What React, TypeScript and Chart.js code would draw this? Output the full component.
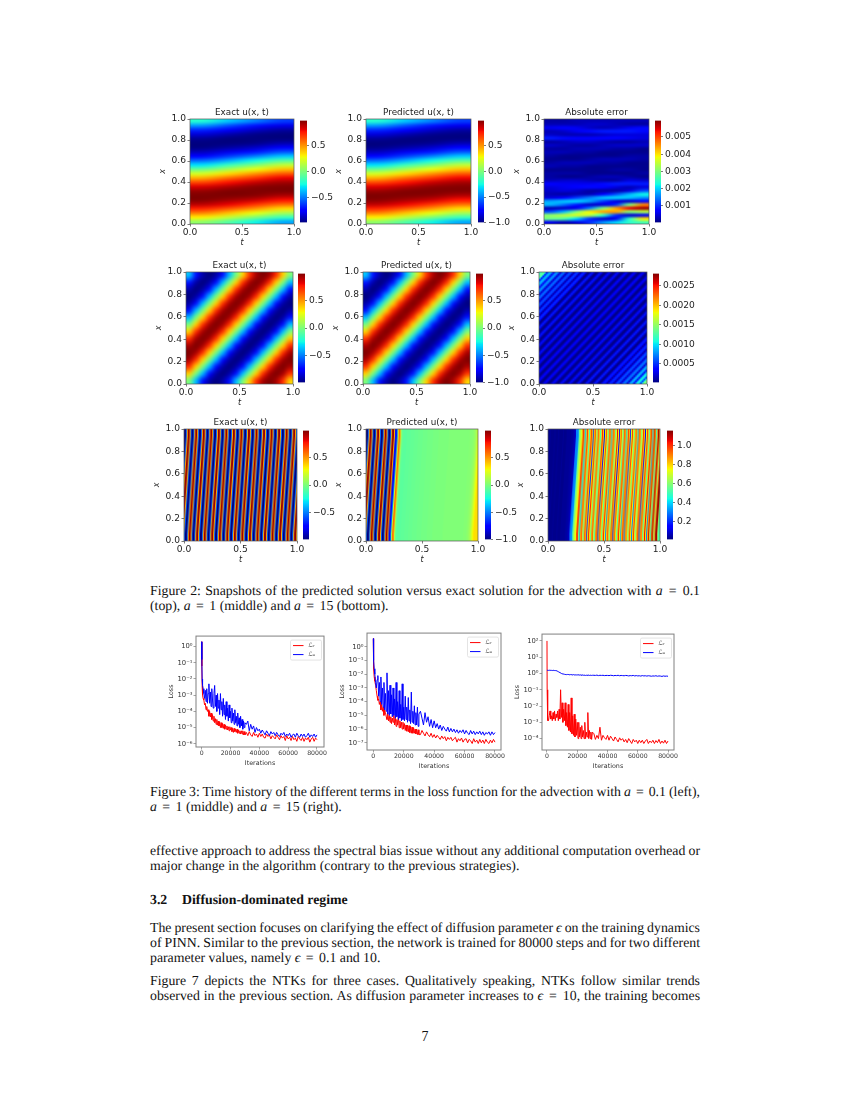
import React, { useEffect, useRef } from "react";
import { Chart, registerables } from "chart.js";

Chart.register(...registerables);

// ---------- heatmap data (rows run from x = 0 upward, columns from t = 0 rightward) ----------
const exactSlow = [
  [0.05, -0.1, -0.26, -0.41], [0.31, 0.16, 0, -0.16], [0.54, 0.41, 0.26, 0.1], [0.74, 0.63, 0.5, 0.36],
  [0.89, 0.81, 0.71, 0.59], [0.98, 0.93, 0.87, 0.78], [1, 0.99, 0.97, 0.91], [0.95, 0.99, 1, 0.99],
  [0.84, 0.91, 0.97, 0.99], [0.67, 0.78, 0.87, 0.93], [0.45, 0.59, 0.71, 0.81], [0.21, 0.36, 0.5, 0.63],
  [-0.05, 0.1, 0.26, 0.41], [-0.31, -0.16, 0, 0.16], [-0.54, -0.41, -0.26, -0.1], [-0.74, -0.63, -0.5, -0.36],
  [-0.89, -0.81, -0.71, -0.59], [-0.98, -0.93, -0.87, -0.78], [-1, -0.99, -0.97, -0.91], [-0.95, -0.99, -1, -0.99],
  [-0.84, -0.91, -0.97, -0.99], [-0.67, -0.78, -0.87, -0.93], [-0.45, -0.59, -0.71, -0.81], [-0.21, -0.36, -0.5, -0.63],
];
const errorSlow = [
  [0.6, 0.3, 0.5, 1.0, 1.6, 2.0, 2.4, 2.6], [2.9, 2.7, 2.0, 1.0, 0.4, 0.6, 2.4, 4.0],
  [3.1, 3.4, 3.6, 3.4, 2.4, 1.0, 0.4, 0.6], [1.2, 1.8, 3.0, 3.9, 4.4, 4.4, 3.0, 3.4],
  [0.3, 0.4, 0.6, 1.5, 3.0, 4.4, 5.4, 5.8], [1.8, 1.4, 0.9, 0.4, 0.5, 1.0, 3.0, 4.6],
  [1.7, 1.9, 2.0, 1.7, 1.1, 0.5, 0.4, 0.8], [0.5, 0.7, 1.1, 1.5, 1.9, 2.0, 1.9, 1.6],
  [0.3, 0.2, 0.3, 0.3, 0.7, 1.2, 1.8, 2.2], [0.4, 0.5, 0.4, 0.2, 0.2, 0.2, 0.5, 1.2],
  [0.5, 0.6, 0.7, 0.8, 0.7, 0.5, 0.3, 0.5], [0.7, 0.6, 0.6, 0.6, 0.8, 0.9, 0.9, 0.9],
  [0.3, 0.4, 0.4, 0.3, 0.2, 0.2, 0.5, 0.4], [0.2, 0.1, 0.1, 0.2, 0.3, 0.3, 0.2, 0.1],
  [0.2, 0.2, 0.2, 0.1, 0.1, 0.1, 0.1, 0.2], [0.1, 0.1, 0.1, 0.1, 0.1, 0.2, 0.2, 0.1],
  [0.3, 0.2, 0.2, 0.1, 0.1, 0.1, 0.1, 0.1], [0.2, 0.3, 0.3, 0.3, 0.2, 0.2, 0.1, 0.1],
  [0.1, 0.1, 0.1, 0.2, 0.3, 0.3, 0.3, 0.2], [0.2, 0.1, 0.1, 0.1, 0.1, 0.1, 0.2, 0.2],
  [0.3, 0.3, 0.2, 0.2, 0.1, 0.1, 0.1, 0.1], [0.2, 0.2, 0.3, 0.3, 0.3, 0.2, 0.2, 0.1],
  [0.4, 0.3, 0.2, 0.2, 0.3, 0.4, 0.4, 0.4], [0.2, 0.3, 0.4, 0.4, 0.3, 0.2, 0.2, 0.3],
  [0.9, 0.8, 0.7, 0.7, 0.7, 0.7, 0.6, 0.5], [0.4, 0.3, 0.3, 0.3, 0.4, 0.5, 0.5, 0.5],
  [0.3, 0.4, 0.6, 0.8, 0.9, 0.9, 0.9, 0.8], [0.6, 0.7, 0.6, 0.4, 0.3, 0.4, 0.6, 0.8],
  [0.3, 0.3, 0.3, 0.4, 0.4, 0.3, 0.2, 0.2], [0.2, 0.2, 0.3, 0.3, 0.3, 0.3, 0.3, 0.3],
];
const exactMid = [
  [0, -0.38, -0.71, -0.92, -1, -0.92, -0.71, -0.38, 0, 0.38, 0.71, 0.92, 1, 0.92, 0.71, 0.38],
  [0.38, 0, -0.38, -0.71, -0.92, -1, -0.92, -0.71, -0.38, 0, 0.38, 0.71, 0.92, 1, 0.92, 0.71],
  [0.71, 0.38, 0, -0.38, -0.71, -0.92, -1, -0.92, -0.71, -0.38, 0, 0.38, 0.71, 0.92, 1, 0.92],
  [0.92, 0.71, 0.38, 0, -0.38, -0.71, -0.92, -1, -0.92, -0.71, -0.38, 0, 0.38, 0.71, 0.92, 1],
  [1, 0.92, 0.71, 0.38, 0, -0.38, -0.71, -0.92, -1, -0.92, -0.71, -0.38, 0, 0.38, 0.71, 0.92],
  [0.92, 1, 0.92, 0.71, 0.38, 0, -0.38, -0.71, -0.92, -1, -0.92, -0.71, -0.38, 0, 0.38, 0.71],
  [0.71, 0.92, 1, 0.92, 0.71, 0.38, 0, -0.38, -0.71, -0.92, -1, -0.92, -0.71, -0.38, 0, 0.38],
  [0.38, 0.71, 0.92, 1, 0.92, 0.71, 0.38, 0, -0.38, -0.71, -0.92, -1, -0.92, -0.71, -0.38, 0],
  [0, 0.38, 0.71, 0.92, 1, 0.92, 0.71, 0.38, 0, -0.38, -0.71, -0.92, -1, -0.92, -0.71, -0.38],
  [-0.38, 0, 0.38, 0.71, 0.92, 1, 0.92, 0.71, 0.38, 0, -0.38, -0.71, -0.92, -1, -0.92, -0.71],
  [-0.71, -0.38, 0, 0.38, 0.71, 0.92, 1, 0.92, 0.71, 0.38, 0, -0.38, -0.71, -0.92, -1, -0.92],
  [-0.92, -0.71, -0.38, 0, 0.38, 0.71, 0.92, 1, 0.92, 0.71, 0.38, 0, -0.38, -0.71, -0.92, -1],
  [-1, -0.92, -0.71, -0.38, 0, 0.38, 0.71, 0.92, 1, 0.92, 0.71, 0.38, 0, -0.38, -0.71, -0.92],
  [-0.92, -1, -0.92, -0.71, -0.38, 0, 0.38, 0.71, 0.92, 1, 0.92, 0.71, 0.38, 0, -0.38, -0.71],
  [-0.71, -0.92, -1, -0.92, -0.71, -0.38, 0, 0.38, 0.71, 0.92, 1, 0.92, 0.71, 0.38, 0, -0.38],
  [-0.38, -0.71, -0.92, -1, -0.92, -0.71, -0.38, 0, 0.38, 0.71, 0.92, 1, 0.92, 0.71, 0.38, 0],
];
// absolute error for a = 1, read along the diagonals from the bottom-right corner to the top-left corner (x 0.001)
const errorMidDiagonals = [
  1.3, 1.5, 1.1, 0.5, 0.9, 1.1, 0.8, 0.3, 0.7, 0.9, 0.6, 0.2, 0.6, 0.7, 0.5, 0.2, 0.5, 0.6, 0.4, 0.1, 0.4, 0.5, 0.35, 0.08, 0.35, 0.45, 0.3, 0.06,
  0.05, 0.22, 0.45, 0.22, 0.05, 0.05, 0.22, 0.44, 0.22, 0.05, 0.05, 0.2, 0.42, 0.2, 0.05, 0.05, 0.2, 0.4, 0.2, 0.05, 0.05, 0.2, 0.4, 0.2, 0.05,
  0.05, 0.2, 0.38, 0.2, 0.05, 0.05, 0.2, 0.36, 0.2, 0.05, 0.05, 0.2, 0.36, 0.2, 0.05, 0.05, 0.2, 0.36, 0.2, 0.05, 0.05, 0.2, 0.38, 0.2, 0.05,
  0.05, 0.2, 0.4, 0.2, 0.05, 0.05, 0.2, 0.4, 0.2, 0.05, 0.05, 0.22, 0.42, 0.22, 0.05, 0.05, 0.22, 0.44, 0.22, 0.05,
  0.06, 0.35, 0.5, 0.35, 0.08, 0.4, 0.55, 0.4, 0.1, 0.45, 0.6, 0.45, 0.15, 0.5, 0.7, 0.5, 0.2, 0.6, 0.8, 0.6, 0.3, 0.7, 0.9, 0.7, 0.4, 1.1, 1.4, 1.2, 1.2,
];
// a = 15: one row of samples along t; the rows above it repeat it, each displaced by one sample
const exactFastRow = [
  -0.55, -1, -1, -0.55, 0.45, 0.95, 0.95, 0.45, -0.55, -1, -1, -0.55, 0.45, 0.95, 0.95, 0.45, -0.55, -1, -1, -0.55, 0.45, 0.95, 0.95, 0.45, -0.55, -1, -1, -0.55, 0.45, 0.95, 0.95, 0.45,
  -0.55, -1, -1, -0.55, 0.45, 0.95, 0.95, 0.45, -0.55, -1, -1, -0.55, 0.45, 0.95, 0.95, 0.45, -0.55, -1, -1, -0.55, 0.45, 0.95, 0.95, 0.45, -0.55, -1, -1, -0.55, 0.45, 0.95, 0.95, 0.45,
  -0.55, -1, -1, -0.55, 0.45, 0.95, 0.95, 0.45, -0.55, -1, -1, -0.55, 0.45, 0.95, 0.95, 0.45, -0.55, -1, -1, -0.55, 0.45, 0.95, 0.95, 0.45, -0.55, -1, -1, -0.55, 0.45, 0.95, 0.95, 0.45,
  -0.55, -1, -1, -0.55, 0.45, 0.95, 0.95, 0.45, -0.55, -1, -1, -0.55, 0.45, 0.95, 0.95, 0.45, -0.55, -1, -1, -0.55, 0.45, 0.95, 0.95, 0.45, -0.55, -1, -1, -0.55, 0.45, 0.95, 0.95, 0.45,
];
const predictedFastRow = [
  -0.55, -1, -1, -0.55, 0.45, 0.95, 0.95, 0.45, -0.55, -1, -1, -0.55, 0.45, 0.95, 0.95, 0.45, -0.55, -1, -1, -0.55, 0.45, 0.95, 0.95, 0.45, -0.55, -1, -1, -0.55, 0.45, 0.95, 0.95, 0.45,
  -0.7, -0.8, -0.5, 0.2, 0.6, 0.5, 0.12, -0.03, -0.07, -0.08, -0.08, -0.08, -0.08, -0.07, -0.07, -0.07, -0.07, -0.06, -0.06, -0.06, -0.06, -0.05, -0.05, -0.05, -0.05, -0.04, -0.04, -0.04, -0.04, -0.04, -0.03, -0.03,
  -0.03, -0.03, -0.03, -0.02, -0.02, -0.02, -0.02, -0.02, -0.02, -0.01, -0.01, -0.01, -0.01, -0.01, -0.01, 0, 0, 0, 0, 0, 0, 0, 0, 0, 0, 0, 0.01, 0.01, 0.01, 0.01, 0.01, 0.01,
  0.01, 0.01, 0.01, 0.01, 0.01, 0.01, 0.01, 0.01, 0.01, 0.01, 0.01, 0.01, 0.01, 0.01, 0.01, 0.01, 0.02, 0.02, 0.02, 0.03, 0.04, 0.06, 0.08, 0.12, 0.18, 0.25, 0.3, 0.35, 0.35, 0.35, 0.35, 0.35,
];
const errorFastRow = [
  0.02, 0.02, 0.02, 0.03, 0.02, 0.02, 0.02, 0.02, 0.03, 0.02, 0.02, 0.02, 0.03, 0.02, 0.02, 0.02, 0.02, 0.03, 0.02, 0.02, 0.02, 0.03, 0.03, 0.03, 0.03, 0.03, 0.04, 0.04, 0.05, 0.06, 0.08, 0.3,
  0.3, 0.32, 0.55, 0.62, 0.7, 0.75, 0.95, 1.0, 0.6, 0.35, 0.8, 1.0, 0.78, 0.5, 0.82, 0.98, 0.8, 0.2, 0.75, 1.02, 0.78, 0.55, 0.85, 0.95, 0.72, 0.45, 0.78, 1.02, 0.8, 0.15, 0.72, 0.98,
  0.75, 0.52, 0.82, 1.0, 0.74, 0.3, 0.78, 0.96, 0.82, 0.55, 0.72, 1.04, 0.76, 0.15, 0.8, 0.95, 0.74, 0.5, 0.84, 1.0, 0.74, 0.35, 0.78, 1.02, 0.8, 0.2, 0.72, 0.98, 0.76, 0.55, 0.82, 0.96,
  0.74, 0.3, 0.8, 1.0, 0.76, 0.55, 0.75, 1.02, 0.8, 0.15, 0.72, 0.98, 0.82, 0.5, 0.78, 1.05, 0.78, 0.3, 0.82, 1.08, 0.82, 0.45, 0.88, 1.12, 0.9, 0.6, 0.92, 1.15, 1.1, 0.6, 0.5, 0.55,
];

// ---------- colorbar ranges and ticks ----------
const waveTicks = [0.5, 0, -0.5];
const predictedTicks = [0.5, 0, -0.5, -1];
const errorSlowTicks = [0.001, 0.002, 0.003, 0.004, 0.005];
const errorMidTicks = [0.0005, 0.001, 0.0015, 0.002, 0.0025];
const errorFastTicks = [0.2, 0.4, 0.6, 0.8, 1.0];

// ---------- loss histories (log10 of loss) ----------
const iterations = [
  0, 100, 300, 600, 1000,
  1500, 2000, 2500, 3000, 3500, 4000, 4500, 5000, 5500, 6000, 6500, 7000, 7500, 8000, 8500, 9000, 9500, 10000,
  10500, 11000, 11500, 12000, 12500, 13000, 13500, 14000, 14500, 15000, 15500, 16000, 16500, 17000, 17500, 18000, 18500, 19000, 19500, 20000,
  20500, 21000, 21500, 22000, 22500, 23000, 23500, 24000, 24500, 25000, 25500, 26000, 26500, 27000, 27500, 28000, 28500, 29000, 29500, 30000,
  31000, 32000, 33000, 34000, 35000, 36000, 37000, 38000, 39000, 40000,
  41000, 42000, 43000, 44000, 45000, 46000, 47000, 48000, 49000, 50000, 51000, 52000, 53000, 54000, 55000, 56000, 57000, 58000, 59000, 60000,
  61000, 62000, 63000, 64000, 65000, 66000, 67000, 68000, 69000, 70000, 71000, 72000, 73000, 74000, 75000, 76000, 77000, 78000, 79000, 80000,
];
const residualSlow = [
  0.3, -1.2, -2.4, -3.0, -3.2,
  -3.3, -3.6, -3.5, -3.9, -3.7, -4.0, -3.9, -4.3, -4.0, -4.35, -4.1, -4.5, -4.2, -4.6, -4.3, -4.7, -4.45, -4.8,
  -4.5, -4.85, -4.6, -4.9, -4.65, -5.0, -4.7, -5.0, -4.75, -5.05, -4.8, -5.1, -4.85, -5.1, -4.9, -5.15, -4.95, -5.2, -4.95, -5.15,
  -5.0, -5.25, -5.05, -5.3, -5.05, -5.25, -5.1, -5.3, -5.1, -5.35, -5.15, -5.35, -5.2, -5.4, -5.2, -5.4, -5.2, -5.45, -5.25, -5.45,
  -5.3, -5.5, -5.25, -5.45, -5.55, -5.3, -5.5, -5.4, -5.6, -5.35,
  -5.55, -5.4, -5.6, -5.65, -5.4, -5.55, -5.45, -5.7, -5.5, -5.6, -5.7, -5.45, -5.6, -5.75, -5.5, -5.65, -5.55, -5.8, -5.5, -5.7,
  -5.6, -5.8, -5.55, -5.75, -5.65, -5.85, -5.55, -5.7, -5.8, -5.6, -5.85, -5.65, -5.75, -5.6, -5.9, -5.7, -5.6, -5.85, -5.65, -5.75,
];
const boundarySlow = [
  0.3, -0.8, -2.0, -2.4, -2.6,
  -2.9, -3.2, -2.7, -3.4, -2.6, -3.5, -2.9, -2.3, -3.5, -2.8, -3.7, -2.6, -3.3, -3.8, -2.9, -2.4, -3.7, -3.0,
  -4.0, -2.9, -3.8, -3.3, -4.2, -2.9, -3.9, -3.4, -4.3, -3.2, -4.2, -3.6, -4.5, -3.4, -4.3, -3.8, -4.6, -3.6, -4.4, -4.0,
  -4.7, -3.8, -4.6, -4.1, -4.8, -3.9, -4.7, -4.3, -4.9, -4.1, -4.8, -4.4, -5.0, -4.3, -4.9, -4.5, -5.1, -4.6, -5.0, -4.7,
  -4.8, -4.6, -5.2, -4.8, -5.1, -4.9, -5.3, -5.0, -5.2, -5.1,
  -5.35, -5.15, -5.3, -5.45, -5.2, -5.35, -5.5, -5.25, -5.4, -5.3, -5.5, -5.3, -5.45, -5.55, -5.35, -5.45, -5.3, -5.55, -5.4, -5.5,
  -5.35, -5.6, -5.45, -5.4, -5.6, -5.35, -5.5, -5.6, -5.4, -5.55, -5.4, -5.6, -5.5, -5.35, -5.6, -5.45, -5.55, -5.4, -5.6, -5.45,
];
const residualMid = [
  0.6, -0.6, -1.6, -2.2, -2.5,
  -2.8, -3.2, -3.6, -3.9, -3.8, -4.2, -4.0, -4.6, -4.2, -4.7, -4.4, -5.0, -4.6, -4.8, -5.1, -5.3, -4.8, -5.4,
  -5.0, -5.5, -5.1, -5.6, -5.2, -5.5, -5.0, -5.7, -5.2, -5.8, -5.3, -5.7, -5.1, -5.9, -5.4, -5.9, -5.5, -6.0, -5.5, -6.0,
  -5.6, -6.1, -5.7, -6.15, -5.7, -6.2, -5.75, -6.25, -5.8, -6.3, -5.85, -6.3, -5.9, -6.3, -6.0, -6.35, -6.0, -6.4, -6.05, -6.4,
  -6.4, -6.1, -6.3, -6.5, -6.2, -6.4, -6.55, -6.3, -6.6, -6.4,
  -6.65, -6.45, -6.6, -6.75, -6.5, -6.7, -6.55, -6.85, -6.6, -6.75, -6.6, -6.85, -6.7, -6.6, -6.95, -6.7, -6.85, -6.65, -6.95, -6.75,
  -6.7, -7.0, -6.75, -6.85, -7.05, -6.7, -6.95, -6.8, -7.05, -6.75, -7.0, -6.8, -7.05, -6.75, -6.95, -7.05, -6.8, -7.0, -6.75, -6.95,
];
const boundaryMid = [
  0.6, -0.2, -1.0, -1.6, -2.0,
  -2.6, -3.0, -2.4, -2.1, -3.6, -2.6, -4.0, -2.2, -4.2, -3.0, -4.4, -2.6, -4.6, -3.4, -4.7, -1.9, -4.9, -3.2,
  -5.0, -2.8, -4.9, -3.5, -5.1, -3.0, -5.0, -3.8, -5.2, -2.6, -5.1, -4.0, -5.3, -3.2, -5.2, -4.2, -5.4, -2.7, -5.3, -4.4,
  -5.4, -3.6, -5.3, -4.4, -5.5, -3.7, -5.4, -4.6, -5.6, -3.3, -5.5, -4.7, -5.6, -4.3, -5.7, -4.8, -5.7, -4.4, -5.8, -4.9,
  -4.7, -5.2, -5.7, -4.8, -5.5, -5.1, -5.8, -5.3, -5.9, -5.4,
  -5.9, -5.6, -6.0, -5.7, -6.1, -5.8, -6.0, -6.15, -5.85, -6.2, -5.95, -6.2, -6.0, -6.25, -6.05, -6.3, -6.1, -6.25, -6.05, -6.35,
  -6.1, -6.3, -6.4, -6.1, -6.35, -6.15, -6.4, -6.2, -6.35, -6.15, -6.4, -6.2, -6.45, -6.25, -6.35, -6.2, -6.45, -6.2, -6.4, -6.25,
];
const residualFast = [
  2.0, -1.0, -2.9, -2.8, -2.9,
  -2.6, -2.3, -2.8, -2.6, -2.9, -2.4, -2.8, -2.3, -2.9, -2.5, -2.7, -2.3, -2.9, -2.2, -2.8, -1.0, -2.7, -1.8,
  -3.0, -2.2, -2.9, -1.8, -3.2, -2.4, -3.3, -1.9, -3.5, -2.4, -3.6, -1.5, -3.7, -2.6, -3.8, -2.5, -3.9, -2.8, -3.8, -3.0,
  -4.0, -3.0, -3.9, -3.3, -4.0, -3.2, -3.9, -3.5, -4.0, -3.0, -4.0, -3.6, -3.9, -2.4, -4.0, -3.5, -4.0, -3.6, -4.05, -3.6,
  -3.7, -4.05, -3.8, -4.0, -3.3, -4.1, -3.8, -3.95, -4.05, -3.8,
  -4.1, -3.85, -4.0, -4.15, -3.9, -4.05, -4.2, -3.95, -4.1, -4.0, -4.2, -4.05, -4.25, -4.0, -4.15, -4.3, -4.05, -4.2, -4.1, -4.3,
  -4.1, -4.25, -4.1, -4.3, -4.15, -4.05, -4.3, -4.15, -4.25, -4.1, -4.3, -4.12, -4.25, -4.05, -4.3, -4.15, -4.28, -4.1, -4.3, -4.15,
];
const boundaryFast = [
  0.2, 0.2, 0.19, 0.2, 0.19,
  0.2, 0.19, 0.2, 0.19, 0.18, 0.2, 0.19, 0.18, 0.18, 0.17, 0.16, 0.13, 0.11, 0.08, 0.06, 0.03, 0, -0.02,
  -0.03, -0.04, -0.05, -0.06, -0.06, -0.07, -0.06, -0.06, -0.07, -0.08, -0.07, -0.07, -0.08, -0.09, -0.07, -0.09, -0.08, -0.09, -0.09, -0.09,
  -0.08, -0.09, -0.1, -0.09, -0.09, -0.11, -0.09, -0.11, -0.1, -0.1, -0.12, -0.11, -0.1, -0.12, -0.1, -0.12, -0.11, -0.1, -0.12, -0.11,
  -0.11, -0.12, -0.1, -0.13, -0.11, -0.12, -0.11, -0.13, -0.12, -0.12,
  -0.13, -0.11, -0.12, -0.14, -0.12, -0.13, -0.11, -0.14, -0.12, -0.13, -0.14, -0.12, -0.13, -0.15, -0.13, -0.14, -0.12, -0.15, -0.13, -0.15,
  -0.14, -0.16, -0.13, -0.15, -0.14, -0.16, -0.14, -0.15, -0.17, -0.15, -0.16, -0.14, -0.17, -0.15, -0.16, -0.18, -0.15, -0.17, -0.16, -0.17,
];
const iterationTicks = [0, 20000, 40000, 60000, 80000];
const residualLabel = "ℒᵣ";
const boundaryLabel = "ℒᵤ";

// ---------- helpers ----------
const SANS = '"DejaVu Sans"';
const SERIF = '"Liberation Serif"';

function ramp(v: number, pts: number[][]) {
  if (v <= pts[0][0]) return pts[0][1];
  for (let i = 1; i < pts.length; i++) {
    if (v <= pts[i][0]) {
      const [a, b] = [pts[i - 1], pts[i]];
      return a[1] + ((b[1] - a[1]) * (v - a[0])) / (b[0] - a[0]);
    }
  }
  return pts[pts.length - 1][1];
}
const JET_R = [[0, 0], [0.35, 0], [0.66, 1], [0.89, 1], [1, 0.5]];
const JET_G = [[0, 0], [0.125, 0], [0.375, 1], [0.64, 1], [0.91, 0], [1, 0]];
const JET_B = [[0, 0.5], [0.11, 1], [0.34, 1], [0.65, 0], [1, 0]];
function jet(f: number): [number, number, number] {
  return [ramp(f, JET_R) * 255, ramp(f, JET_G) * 255, ramp(f, JET_B) * 255];
}
const JET_STOPS = [0, 0.11, 0.125, 0.34, 0.35, 0.375, 0.64, 0.65, 0.66, 0.89, 0.91, 1];

const fromDiagonals = (d: number[], n: number) =>
  Array.from({ length: n }, (_, r) => Array.from({ length: n }, (_, c) => d[r - c + n - 1]));
const displacedRows = (row: number[], rows: number, cols: number) =>
  Array.from({ length: rows }, (_, r) => Array.from({ length: cols }, (_, c) => row[c - r + rows]));
const scaleRows = (g: number[][], k: number) => g.map((row) => row.map((v) => v * k));

function gridPoints(grid: number[][]) {
  const pts: { x: number; y: number; v: number }[] = [];
  grid.forEach((row, r) =>
    row.forEach((v, c) => pts.push({ x: (c + 0.5) / row.length, y: (r + 0.5) / grid.length, v }))
  );
  return pts;
}

// Paints the dataset's cells as a smoothed image placed by the chart's scales.
const heatImagePlugin = {
  id: "heatImage",
  beforeDatasetsDraw(chart: any) {
    const ds = chart.data.datasets[0];
    const { cols, rows, vmin, vmax } = ds.gridInfo;
    const off = document.createElement("canvas");
    off.width = cols;
    off.height = rows;
    const octx = off.getContext("2d")!;
    const img = octx.createImageData(cols, rows);
    ds.data.forEach((p: any, i: number) => {
      const r = Math.floor(i / cols);
      const c = i % cols;
      const at = ((rows - 1 - r) * cols + c) * 4;
      const [cr, cg, cb] = jet((p.v - vmin) / (vmax - vmin));
      img.data[at] = cr;
      img.data[at + 1] = cg;
      img.data[at + 2] = cb;
      img.data[at + 3] = 255;
    });
    octx.putImageData(img, 0, 0);
    const xs = chart.scales.x;
    const ys = chart.scales.y;
    const x0 = xs.getPixelForValue(0);
    const x1 = xs.getPixelForValue(1);
    const y0 = ys.getPixelForValue(1);
    const y1 = ys.getPixelForValue(0);
    const ctx = chart.ctx;
    ctx.save();
    ctx.imageSmoothingEnabled = true;
    ctx.imageSmoothingQuality = "high";
    ctx.drawImage(off, x0, y0, x1 - x0, y1 - y0);
    ctx.restore();
  },
};

const framePlugin = {
  id: "frame",
  afterDatasetsDraw(chart: any, _a: any, opts: any) {
    const { left, top, width, height } = chart.chartArea;
    const ctx = chart.ctx;
    ctx.save();
    ctx.strokeStyle = opts.color;
    ctx.lineWidth = opts.width;
    ctx.strokeRect(left, top, width, height);
    ctx.restore();
  },
};

const lossLegendPlugin = {
  id: "lossLegend",
  afterDraw(chart: any) {
    const { right, top } = chart.chartArea;
    const ctx = chart.ctx;
    const w = 31;
    const h = 20;
    const x = right - 2.5 - w;
    const y = top + 4;
    ctx.save();
    ctx.fillStyle = "rgba(255,255,255,0.8)";
    ctx.strokeStyle = "#d8d8d8";
    ctx.lineWidth = 0.7;
    ctx.beginPath();
    ctx.roundRect(x, y, w, h, 1.5);
    ctx.fill();
    ctx.stroke();
    chart.data.datasets.forEach((ds: any, i: number) => {
      const ly = y + 5.5 + i * 9;
      ctx.strokeStyle = ds.borderColor;
      ctx.lineWidth = 1;
      ctx.beginPath();
      ctx.moveTo(x + 2.5, ly);
      ctx.lineTo(x + 13, ly);
      ctx.stroke();
      ctx.fillStyle = "#222";
      ctx.font = `italic 6px ${SANS}`;
      ctx.textBaseline = "middle";
      ctx.fillText(ds.label, x + 18, ly);
    });
    ctx.restore();
  },
};

function useChart(make: (c: HTMLCanvasElement) => Chart) {
  const ref = useRef<HTMLCanvasElement>(null);
  useEffect(() => {
    const el = ref.current!;
    (el.getContext("2d") as any).textRendering = "geometricPrecision";
    const chart = make(el);
    return () => chart.destroy();
  }, []);
  return ref;
}

type HeatProps = { box: number[]; title: string; grid: number[][]; vmin: number; vmax: number };

function HeatPanel({ box, title, grid, vmin, vmax }: HeatProps) {
  const [l, r, t, b] = box;
  const mL = 32, mR = 10, mT = 12, mB = 24;
  const tickFont = { family: SANS, size: 9.1 };
  const ref = useChart(
    (c) =>
      new Chart(c, {
        type: "scatter",
        data: {
          datasets: [
            {
              data: gridPoints(grid),
              pointRadius: 0,
              pointHoverRadius: 0,
              gridInfo: { cols: grid[0].length, rows: grid.length, vmin, vmax },
            } as any,
          ],
        },
        options: {
          animation: false,
          responsive: false,
          events: [],
          layout: { padding: { right: mR } },
          plugins: {
            legend: { display: false },
            tooltip: { enabled: false },
            title: {
              display: true,
              fullSize: false,
              text: title,
              color: "#222",
              padding: 0,
              font: { family: SANS, size: 8.8, weight: "normal", lineHeight: mT / 8.8 },
            },
            frame: { color: "#555", width: 0.7 },
          } as any,
          scales: {
            x: {
              type: "linear",
              min: 0,
              max: 1,
              afterFit: (s: any) => { s.height = mB; },
              ticks: { stepSize: 0.5, padding: 1, maxRotation: 0, color: "#222", font: tickFont, callback: (v: any) => Number(v).toFixed(1) },
              grid: { drawOnChartArea: false, tickLength: 2.5, color: "#444", lineWidth: 0.7 },
              border: { display: false },
              title: { display: true, text: "t", color: "#222", padding: 0, font: { family: SANS, size: 8, style: "italic" } },
            },
            y: {
              type: "linear",
              min: 0,
              max: 1,
              afterFit: (s: any) => { s.width = mL; },
              ticks: { stepSize: 0.2, padding: 1.5, color: "#222", font: tickFont, callback: (v: any) => Number(v).toFixed(1) },
              grid: { drawOnChartArea: false, tickLength: 2.5, color: "#444", lineWidth: 0.7 },
              border: { display: false },
              title: { display: true, text: "x", color: "#222", padding: 0, font: { family: SANS, size: 8, style: "italic" } },
            },
          },
        },
        plugins: [heatImagePlugin, framePlugin],
      } as any)
  );
  return (
    <canvas
      ref={ref}
      width={r - l + mL + mR}
      height={b - t + mT + mB}
      style={{ position: "absolute", left: l - mL, top: t - mT }}
    />
  );
}

type BarProps = { box: number[]; vmin: number; vmax: number; ticks: number[]; digits: number };

function Colorbar({ box, vmin, vmax, ticks, digits }: BarProps) {
  const [l, r, t, b] = box;
  const pad = 6, mR = 38;
  const ref = useChart(
    (c) =>
      new Chart(c, {
        type: "bar",
        data: {
          labels: [""],
          datasets: [
            {
              data: [[vmin, vmax]],
              barPercentage: 1,
              categoryPercentage: 1,
              borderWidth: 0,
              backgroundColor: (ctx: any) => {
                const area = ctx.chart.chartArea;
                if (!area) return "#000";
                const g = ctx.chart.ctx.createLinearGradient(0, area.bottom, 0, area.top);
                JET_STOPS.forEach((s) => {
                  const [cr, cg, cb] = jet(s);
                  g.addColorStop(s, `rgb(${cr},${cg},${cb})`);
                });
                return g;
              },
            },
          ],
        },
        options: {
          animation: false,
          responsive: false,
          events: [],
          layout: { padding: { top: pad, bottom: pad } },
          plugins: { legend: { display: false }, tooltip: { enabled: false } },
          scales: {
            x: { display: false },
            y: {
              position: "right",
              min: vmin,
              max: vmax,
              afterFit: (s: any) => { s.width = mR; },
              afterBuildTicks: (s: any) => { s.ticks = ticks.map((value) => ({ value })); },
              ticks: {
                autoSkip: false,
                padding: 2,
                color: "#222",
                font: { family: SANS, size: 9.1 },
                callback: (v: any) => Number(v).toFixed(digits).replace("-", "\u2212"),
              },
              grid: { drawOnChartArea: false, tickLength: 2, color: "#444", lineWidth: 0.7 },
              border: { display: false },
            },
          },
        },
      } as any)
  );
  return (
    <canvas
      ref={ref}
      width={r - l + mR}
      height={b - t + pad * 2}
      style={{ position: "absolute", left: l, top: t - pad }}
    />
  );
}

type LossProps = {
  box: number[];
  xRange: number[];
  yRange: number[];
  decades: number[];
  red: number[];
  blue: number[];
};
const SUP: Record<string, string> = { "-": "⁻", "0": "⁰", "1": "¹", "2": "²", "3": "³", "4": "⁴", "5": "⁵", "6": "⁶", "7": "⁷" };

function LossPanel({ box, xRange, yRange, decades, red, blue }: LossProps) {
  const [l, r, t, b] = box;
  const mL = 28, mR = 10, mT = 3, mB = 20;
  const toPoints = (arr: number[]) => iterations.map((x, i) => ({ x, y: 10 ** arr[i] }));
  const tickFont = { family: SANS, size: 6.2 };
  const ref = useChart(
    (c) =>
      new Chart(c, {
        type: "line",
        data: {
          datasets: [
            { label: residualLabel, data: toPoints(red), borderColor: "#ff0000", borderWidth: 1, pointRadius: 0, order: 2 },
            { label: boundaryLabel, data: toPoints(blue), borderColor: "#0000ff", borderWidth: 1, pointRadius: 0, order: 1 },
          ],
        },
        options: {
          animation: false,
          responsive: false,
          events: [],
          layout: { padding: { top: mT, right: mR } },
          plugins: {
            legend: { display: false },
            tooltip: { enabled: false },
            frame: { color: "#808080", width: 1 },
          } as any,
          scales: {
            x: {
              type: "linear",
              min: xRange[0],
              max: xRange[1],
              afterFit: (s: any) => { s.height = mB; },
              afterBuildTicks: (s: any) => { s.ticks = iterationTicks.map((value) => ({ value })); },
              ticks: { autoSkip: false, padding: 0, maxRotation: 0, color: "#333", font: tickFont, callback: (v: any) => String(v) },
              grid: { drawOnChartArea: false, tickLength: 2.5, color: "#666", lineWidth: 0.6 },
              border: { display: false },
              title: { display: true, text: "Iterations", color: "#333", padding: 0, font: { family: SANS, size: 6.4 } },
            },
            y: {
              type: "logarithmic",
              min: 10 ** yRange[0],
              max: 10 ** yRange[1],
              afterFit: (s: any) => { s.width = mL; },
              afterBuildTicks: (s: any) => { s.ticks = decades.map((d) => ({ value: 10 ** d })); },
              ticks: {
                autoSkip: false,
                padding: 1,
                color: "#333",
                font: { family: SANS, size: 6.8 },
                callback: (v: any) => "10" + String(Math.round(Math.log10(v))).split("").map((ch) => SUP[ch]).join(""),
              },
              grid: { drawOnChartArea: false, tickLength: 2.5, color: "#666", lineWidth: 0.6 },
              border: { display: false },
              title: { display: true, text: "Loss", color: "#333", padding: 0, font: { family: SANS, size: 6.4 } },
            },
          },
        },
        plugins: [framePlugin, lossLegendPlugin],
      } as any)
  );
  return (
    <canvas
      ref={ref}
      width={r - l + mL + mR}
      height={b - t + mT + mB}
      style={{ position: "absolute", left: l - mL, top: t - mT }}
    />
  );
}

function Line({ y, justify, children }: { y: number; justify?: boolean; children: React.ReactNode }) {
  return (
    <div
      style={{
        position: "absolute",
        left: 150,
        width: 550,
        top: y - 8,
        height: 16,
        lineHeight: "16px",
        fontFamily: SERIF,
        fontSize: 13.8,
        color: "#111",
        textRendering: "geometricPrecision",
        wordSpacing: justify ? "-1px" : undefined,
        whiteSpace: justify ? "normal" : "nowrap",
        textAlign: justify ? "justify" : "left",
        textAlignLast: justify ? "justify" : "left",
      } as React.CSSProperties}
    >
      {children}
    </div>
  );
}

const Eq = () => <span style={{ margin: "0 2px" }}>=</span>;

const errorSlowValues = scaleRows(errorSlow, 0.001);
const errorMidValues = scaleRows(fromDiagonals(errorMidDiagonals, 64), 0.001);
const exactFast = displacedRows(exactFastRow, 8, 120);
const predictedFast = displacedRows(predictedFastRow, 8, 120);
const errorFast = displacedRows(errorFastRow, 8, 120);

export default function App() {
  return (
    <div style={{ position: "absolute", left: 0, top: 0, width: 850, height: 1100, background: "#fff", overflow: "hidden" }}>
      <HeatPanel box={[190, 294, 119, 224]} title="Exact u(x, t)" grid={exactSlow} vmin={-0.99} vmax={0.99} />
      <Colorbar box={[300, 307, 119, 224]} vmin={-0.99} vmax={0.99} ticks={waveTicks} digits={1} />
      <HeatPanel box={[366, 471, 119, 224]} title="Predicted u(x, t)" grid={exactSlow} vmin={-1} vmax={1} />
      <Colorbar box={[478, 484, 119, 224]} vmin={-1} vmax={1} ticks={predictedTicks} digits={1} />
      <HeatPanel box={[544, 649, 119, 224]} title="Absolute error" grid={errorSlowValues} vmin={0.00002} vmax={0.00596} />
      <Colorbar box={[655, 661, 119, 224]} vmin={0.00002} vmax={0.00596} ticks={errorSlowTicks} digits={3} />

      <HeatPanel box={[186, 293, 272, 384]} title="Exact u(x, t)" grid={exactMid} vmin={-0.99} vmax={0.99} />
      <Colorbar box={[298, 305, 272, 384]} vmin={-0.99} vmax={0.99} ticks={waveTicks} digits={1} />
      <HeatPanel box={[363, 470, 272, 384]} title="Predicted u(x, t)" grid={exactMid} vmin={-1} vmax={1} />
      <Colorbar box={[476, 483, 272, 384]} vmin={-1} vmax={1} ticks={predictedTicks} digits={1} />
      <HeatPanel box={[539, 647, 272, 384]} title="Absolute error" grid={errorMidValues} vmin={0.00002} vmax={0.00282} />
      <Colorbar box={[653, 659, 272, 384]} vmin={0.00002} vmax={0.00282} ticks={errorMidTicks} digits={4} />

      <HeatPanel box={[184, 297, 429, 541]} title="Exact u(x, t)" grid={exactFast} vmin={-0.994} vmax={0.994} />
      <Colorbar box={[303, 309, 429, 541]} vmin={-0.994} vmax={0.994} ticks={waveTicks} digits={1} />
      <HeatPanel box={[366, 478, 429, 541]} title="Predicted u(x, t)" grid={predictedFast} vmin={-1} vmax={1} />
      <Colorbar box={[485, 491, 429, 541]} vmin={-1} vmax={1} ticks={predictedTicks} digits={1} />
      <HeatPanel box={[548, 660, 429, 541]} title="Absolute error" grid={errorFast} vmin={0.008} vmax={1.155} />
      <Colorbar box={[667, 673, 429, 541]} vmin={0.008} vmax={1.155} ticks={errorFastTicks} digits={1} />

      <LossPanel box={[196, 324, 634, 747]} xRange={[-3950, 84860]} yRange={[-6.2, 0.65]} decades={[0, -1, -2, -3, -4, -5, -6]} red={residualSlow} blue={boundarySlow} />
      <LossPanel box={[367, 501, 631, 750]} xRange={[-4140, 83950]} yRange={[-7.48, 1.0]} decades={[0, -1, -2, -3, -4, -5, -6, -7]} red={residualMid} blue={boundaryMid} />
      <LossPanel box={[542, 674, 632, 750]} xRange={[-3300, 83950]} yRange={[-4.7, 2.42]} decades={[2, 1, 0, -1, -2, -3, -4]} red={residualFast} blue={boundaryFast} />

      <Line y={590.7} justify>Figure 2: Snapshots of the predicted solution versus exact solution for the advection with <i>a</i> <Eq /> 0.1</Line>
      <Line y={605.7}>(top), <i>a</i> <Eq /> 1 (middle) and <i>a</i> <Eq /> 15 (bottom).</Line>
      <Line y={791.7} justify>Figure 3: Time history of the different terms in the loss function for the advection with <i>a</i> <Eq /> 0.1 (left),</Line>
      <Line y={807}><i>a</i> <Eq /> 1 (middle) and <i>a</i> <Eq /> 15 (right).</Line>
      <Line y={851} justify>effective approach to address the spectral bias issue without any additional computation overhead or</Line>
      <Line y={866}>major change in the algorithm (contrary to the previous strategies).</Line>
      <Line y={900}><b><span style={{ display: "inline-block", width: 32 }}>3.2</span>Diffusion-dominated regime</b></Line>
      <Line y={928.3} justify>The present section focuses on clarifying the effect of diffusion parameter <i>ϵ</i> on the training dynamics</Line>
      <Line y={943} justify>of PINN. Similar to the previous section, the network is trained for 80000 steps and for two different</Line>
      <Line y={958}>parameter values, namely <i>ϵ</i> <Eq /> 0.1 and 10.</Line>
      <Line y={981} justify>Figure 7 depicts the NTKs for three cases. Qualitatively speaking, NTKs follow similar trends</Line>
      <Line y={995.7} justify>observed in the previous section. As diffusion parameter increases to <i>ϵ</i> <Eq /> 10, the training becomes</Line>
      <div style={{ position: "absolute", left: 0, width: 850, top: 1028.7, height: 16, lineHeight: "16px", textAlign: "center", fontFamily: SERIF, fontSize: 13.9, color: "#111" }}>7</div>
    </div>
  );
}
